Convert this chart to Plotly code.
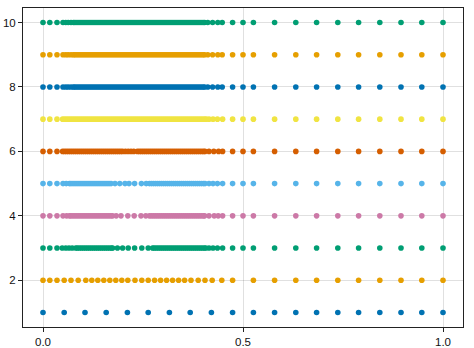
import plotly.graph_objects as go

# ---- data ----
row_y = [1, 2, 3, 4, 5, 6, 7, 8, 9, 10]

row1_x = [0.000, 0.053, 0.105, 0.158, 0.211, 0.263, 0.316, 0.368, 0.421, 0.474,
          0.526, 0.579, 0.632, 0.684, 0.737, 0.789, 0.842, 0.895, 0.947, 1.000]

row2_x = [0.000, 0.017, 0.035, 0.053, 0.070, 0.088, 0.107, 0.122, 0.137, 0.152,
          0.167, 0.182, 0.197, 0.212, 0.230, 0.247, 0.263, 0.279, 0.294, 0.309,
          0.324, 0.339, 0.354, 0.370, 0.388, 0.405, 0.423, 0.447, 0.474, 0.526,
          0.579, 0.632, 0.684, 0.737, 0.789, 0.842, 0.895, 0.947, 1.000]

row3_x = [0.000, 0.017, 0.035, 0.048, 0.057, 0.065, 0.073, 0.082,
          0.086, 0.091, 0.096, 0.101, 0.106, 0.111, 0.116, 0.121, 0.126, 0.131,
          0.136, 0.141, 0.146, 0.151, 0.156, 0.161, 0.166, 0.171, 0.174,
          0.186, 0.199, 0.213, 0.229, 0.247, 0.263, 0.274,
          0.278, 0.283, 0.288, 0.293, 0.298, 0.303, 0.308, 0.313, 0.318, 0.323,
          0.328, 0.333, 0.338, 0.343, 0.348, 0.353, 0.358, 0.363, 0.368, 0.373,
          0.378, 0.383, 0.388, 0.393, 0.398, 0.403, 0.407,
          0.415, 0.425, 0.436, 0.449, 0.474, 0.500, 0.526,
          0.579, 0.632, 0.684, 0.737, 0.789, 0.842, 0.895, 0.947, 1.000]

row4_x = [0.000, 0.017, 0.035, 0.050, 0.059, 0.066,
          0.070, 0.075, 0.080, 0.085, 0.090, 0.095, 0.100, 0.105, 0.110, 0.115,
          0.120, 0.125, 0.130, 0.135, 0.140, 0.145, 0.150, 0.155, 0.160, 0.165,
          0.170, 0.174,
          0.183, 0.195, 0.212, 0.228, 0.245, 0.257,
          0.266, 0.271, 0.276, 0.281, 0.286, 0.291, 0.296, 0.301, 0.306, 0.311,
          0.316, 0.321, 0.326, 0.331, 0.336, 0.341, 0.346, 0.351, 0.356, 0.361,
          0.366, 0.371, 0.376, 0.381, 0.386, 0.391, 0.396, 0.401, 0.404,
          0.415, 0.428, 0.438, 0.449, 0.474, 0.500, 0.526,
          0.579, 0.632, 0.684, 0.737, 0.789, 0.842, 0.895, 0.947, 1.000]

row5_x = [0.000, 0.017, 0.035, 0.050, 0.058, 0.066,
          0.070, 0.075, 0.080, 0.085, 0.090, 0.095, 0.100, 0.105, 0.110, 0.115,
          0.120, 0.125, 0.130, 0.135, 0.140, 0.145, 0.150, 0.155, 0.160, 0.165,
          0.170,
          0.180, 0.192, 0.205, 0.215, 0.229, 0.246, 0.258,
          0.266, 0.271, 0.276, 0.281, 0.286, 0.291, 0.296, 0.301, 0.306, 0.311,
          0.316, 0.321, 0.326, 0.331, 0.336, 0.341, 0.346, 0.351, 0.356, 0.361,
          0.366, 0.371, 0.376, 0.381, 0.386, 0.391, 0.396, 0.401, 0.405,
          0.415, 0.425, 0.436, 0.449, 0.474, 0.500, 0.526,
          0.579, 0.632, 0.684, 0.737, 0.789, 0.842, 0.895, 0.947, 1.000]

row6_x = [0.000, 0.017, 0.035,
          0.049, 0.054, 0.059, 0.064, 0.069, 0.074, 0.079, 0.084, 0.089, 0.094,
          0.099, 0.104, 0.109, 0.114, 0.119, 0.124, 0.129, 0.134, 0.139, 0.144,
          0.149, 0.154, 0.159, 0.164, 0.169, 0.174, 0.179, 0.184, 0.189, 0.194,
          0.199,
          0.206, 0.213, 0.220, 0.227,
          0.236, 0.241, 0.246, 0.251, 0.256, 0.261, 0.266, 0.271, 0.276, 0.281,
          0.286, 0.291, 0.296, 0.301, 0.306, 0.311, 0.316, 0.321, 0.326, 0.331,
          0.336, 0.341, 0.346, 0.351, 0.356, 0.361, 0.366, 0.371, 0.376, 0.381,
          0.386, 0.391, 0.396, 0.401, 0.405,
          0.415, 0.427, 0.439, 0.449, 0.474, 0.500, 0.526,
          0.579, 0.632, 0.684, 0.737, 0.789, 0.842, 0.895, 0.947, 1.000]

row7_x = [0.000, 0.017, 0.035,
          0.049, 0.054, 0.059, 0.064, 0.069, 0.074, 0.079, 0.084, 0.089, 0.094,
          0.099, 0.104, 0.109, 0.114, 0.119, 0.124, 0.129, 0.134, 0.139, 0.144,
          0.149, 0.154, 0.159, 0.164, 0.169, 0.174, 0.179, 0.184, 0.189, 0.194,
          0.199, 0.204, 0.209, 0.214, 0.219, 0.224, 0.229, 0.234, 0.239, 0.244,
          0.249, 0.254, 0.259, 0.264, 0.269, 0.274, 0.279, 0.284, 0.289, 0.294,
          0.299, 0.304, 0.309, 0.314, 0.319, 0.324, 0.329, 0.334, 0.339, 0.344,
          0.349, 0.354, 0.359, 0.364, 0.369, 0.374, 0.379, 0.384, 0.389, 0.394,
          0.399, 0.404, 0.408,
          0.415, 0.425, 0.436, 0.449, 0.474, 0.500, 0.526,
          0.579, 0.632, 0.684, 0.737, 0.789, 0.842, 0.895, 0.947, 1.000]

row8_x = [0.000, 0.017, 0.035, 0.050, 0.057, 0.063, 0.070, 0.076,
          0.080, 0.085, 0.090, 0.095, 0.100, 0.105, 0.110, 0.115, 0.120, 0.125,
          0.130, 0.135, 0.140, 0.145, 0.150, 0.155, 0.160, 0.165, 0.170, 0.175,
          0.180, 0.185, 0.190, 0.195, 0.200, 0.205, 0.210, 0.215, 0.220, 0.225,
          0.230, 0.235, 0.240, 0.245, 0.250, 0.255, 0.260, 0.265, 0.270, 0.275,
          0.280, 0.285, 0.290, 0.295, 0.300, 0.305, 0.310, 0.315, 0.320, 0.325,
          0.330, 0.335, 0.340, 0.345, 0.350, 0.355, 0.360, 0.365, 0.370, 0.375,
          0.380, 0.385, 0.390, 0.395, 0.400, 0.404,
          0.412, 0.424, 0.437, 0.448, 0.474, 0.500, 0.526,
          0.579, 0.632, 0.684, 0.737, 0.789, 0.842, 0.895, 0.947, 1.000]

row9_x = [0.000, 0.017, 0.035, 0.050, 0.057, 0.063, 0.070, 0.076,
          0.080, 0.085, 0.090, 0.095, 0.100, 0.105, 0.110, 0.115, 0.120, 0.125,
          0.130, 0.135, 0.140, 0.145, 0.150, 0.155, 0.160, 0.165, 0.170, 0.175,
          0.180, 0.185, 0.190, 0.195, 0.200, 0.205, 0.210, 0.215, 0.220, 0.225,
          0.230, 0.235, 0.240, 0.245, 0.250, 0.255, 0.260, 0.265, 0.270, 0.275,
          0.280, 0.285, 0.290, 0.295, 0.300, 0.305, 0.310, 0.315, 0.320, 0.325,
          0.330, 0.335, 0.340, 0.345, 0.350, 0.355, 0.360, 0.365, 0.370, 0.375,
          0.380, 0.385, 0.390, 0.395, 0.400, 0.404,
          0.412, 0.424, 0.437, 0.448, 0.474, 0.500, 0.526,
          0.579, 0.632, 0.684, 0.737, 0.789, 0.842, 0.895, 0.947, 1.000]

row10_x = [0.000, 0.017, 0.035, 0.050, 0.057, 0.063, 0.070, 0.076,
           0.080, 0.085, 0.090, 0.095, 0.100, 0.105, 0.110, 0.115, 0.120, 0.125,
           0.130, 0.135, 0.140, 0.145, 0.150, 0.155, 0.160, 0.165, 0.170, 0.175,
           0.180, 0.185, 0.190, 0.195, 0.200, 0.205, 0.210, 0.215, 0.220, 0.225,
           0.230, 0.235, 0.240, 0.245, 0.250, 0.255, 0.260, 0.265, 0.270, 0.275,
           0.280, 0.285, 0.290, 0.295, 0.300, 0.305, 0.310, 0.315, 0.320, 0.325,
           0.330, 0.335, 0.340, 0.345, 0.350, 0.355, 0.360, 0.365, 0.370, 0.375,
           0.380, 0.385, 0.390, 0.395, 0.400, 0.404,
           0.412, 0.424, 0.437, 0.448, 0.474, 0.500, 0.526,
           0.579, 0.632, 0.684, 0.737, 0.789, 0.842, 0.895, 0.947, 1.000]

rows_x = [row1_x, row2_x, row3_x, row4_x, row5_x,
          row6_x, row7_x, row8_x, row9_x, row10_x]

palette = ["#0072B2", "#E69F00", "#009E73", "#CC79A7", "#56B4E9",
           "#D55E00", "#F0E442"]

x_tickvals = [0.0, 0.5, 1.0]
x_ticktext = ["0.0", "0.5", "1.0"]
y_tickvals = [2, 4, 6, 8, 10]
y_ticktext = ["2", "4", "6", "8", "10"]

fig = go.Figure()
for i, (yv, xs) in enumerate(zip(row_y, rows_x)):
    fig.add_trace(go.Scatter(
        x=xs, y=[yv] * len(xs), mode="markers",
        marker=dict(size=5.6, color=palette[i % len(palette)], line=dict(width=0)),
        showlegend=False, hoverinfo="skip"))

axis_common = dict(
    showgrid=True, gridcolor="rgba(0,0,0,0.12)", gridwidth=1,
    zeroline=False, showline=True, linecolor="#222222", linewidth=1,
    mirror=True, ticks="outside", ticklen=4, tickcolor="#222222", tickwidth=1,
    automargin=False,
    tickfont=dict(family="Liberation Sans, Arial, sans-serif", size=11.5, color="#111111"),
)

fig.update_xaxes(range=[-0.05, 1.05], tickvals=x_tickvals, ticktext=x_ticktext, **axis_common)
fig.update_yaxes(range=[0.55, 10.45], tickvals=y_tickvals, ticktext=y_ticktext, **axis_common)

fig.update_layout(
    width=474, height=348,
    margin=dict(l=23, r=11, t=8, b=21, pad=0),
    paper_bgcolor="white", plot_bgcolor="white",
)

fig.write_html("out.html")
